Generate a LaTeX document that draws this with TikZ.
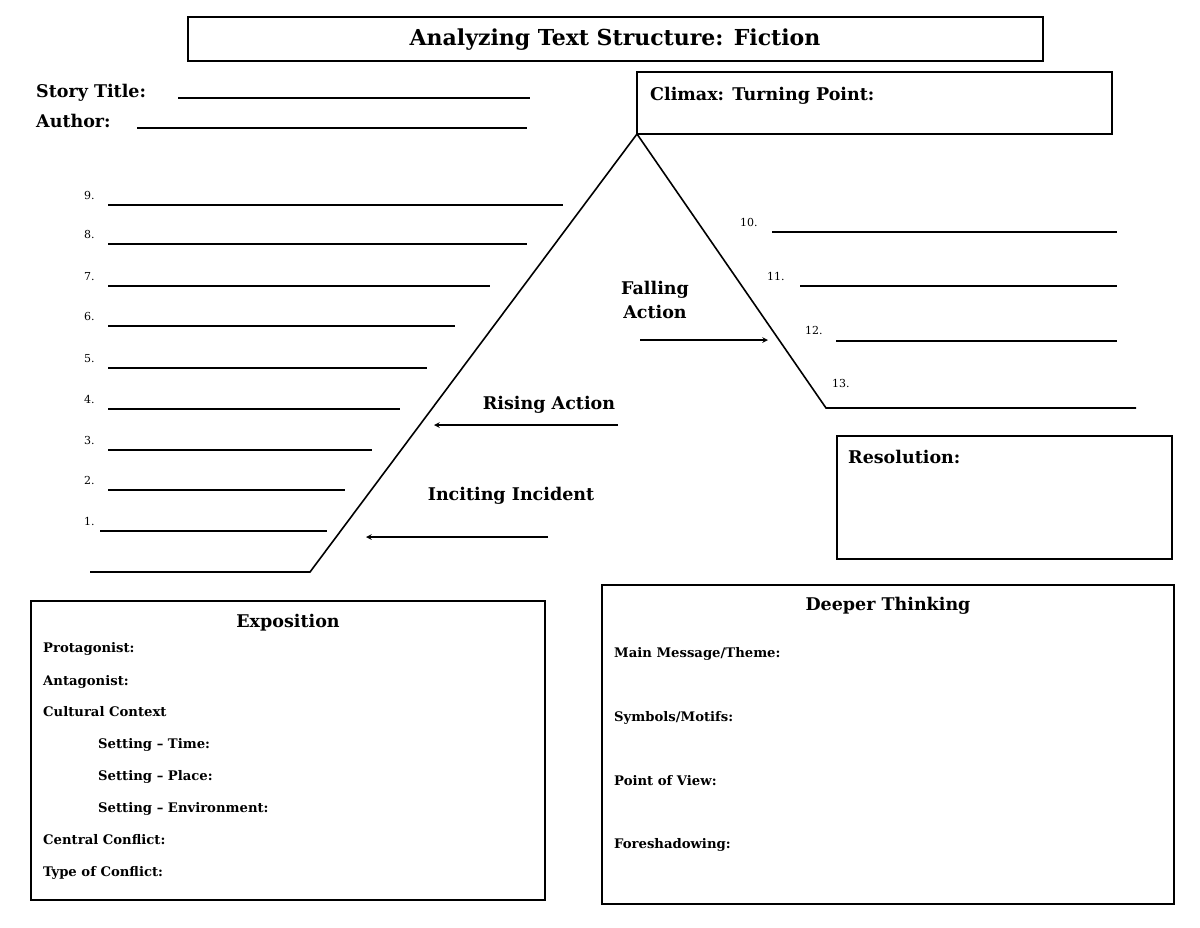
\documentclass[tikz,border=0pt]{standalone}
\usepackage{fontspec}
\setmainfont{DejaVu Serif}
\begin{document}
\begin{tikzpicture}[x=1pt,y=-1pt,
  box/.style={draw,line width=1.2pt},
  lbl/.style={anchor=base west,inner sep=0pt,font=\bfseries\fontsize{13.2}{16}\selectfont},
  hdr/.style={anchor=base west,inner sep=0pt,font=\bfseries\fontsize{17.5}{20}\selectfont},
  num/.style={anchor=base west,inner sep=0pt,font=\fontsize{11}{13}\selectfont},
  big/.style={inner sep=0pt,font=\bfseries\fontsize{17.5}{24}\selectfont,align=center},
  ln/.style={line width=1.2pt},
  arr/.style={line width=1.5pt,-stealth}]
\useasboundingbox (0,0) rectangle (1200,927);
% title
\draw[box] (188,17) rectangle (1043,61);
\node[inner sep=0pt,font=\bfseries\fontsize{22}{26}\selectfont] (title) at (615,40) {Analyzing Text Structure: Fiction};
\node[hdr] (st) at (36,97) {Story Title:};
\draw[ln] (178,98) -- (530,98);
\node[hdr] (au) at (36,127) {Author:};
\draw[ln] (137,128) -- (527,128);
% climax
\draw[box] (637,72) rectangle (1112,134);
\node[hdr] (cl) at (650,100) {Climax: Turning Point:};
% plot line
\coordinate (p0) at (90,572); \coordinate (p1) at (310,572);
\coordinate (p2) at (637,134); \coordinate (p3) at (826,408); \coordinate (p4) at (1136,408);
\draw[ln,line width=1.6pt] (p0) -- (p1) -- (p2) -- (p3) -- (p4);
% left numbered lines
\foreach \n/\y/\e in {9/205/563,8/244/527,7/286/490,6/326/455,5/368/427,4/409/400,3/450/372,2/490/345}{
  \node[num] (n\n) at (84,\y-6) {\n.};
  \draw[ln] (108,\y) -- (\e,\y);
}
\node[num] (n1) at (84,525) {1.};
\draw[ln] (100,531) -- (327,531);
% right numbered lines
\node[num] (n10) at (740,226) {10.};
\draw[ln] (772,232) -- (1117,232);
\node[num] (n11) at (767,280) {11.};
\draw[ln] (800,286) -- (1117,286);
\node[num] (n12) at (805,334) {12.};
\draw[ln] (836,341) -- (1117,341);
\node[num] (n13) at (832,387) {13.};
% labels and arrows
\node[big] (fa) at (655,300) {Falling\\Action};
\coordinate (fa1) at (640,340); \coordinate (fa2) at (768,340);
\draw[arr] (fa1) -- (fa2);
\node[big] (ra) at (549,405) {Rising Action};
\coordinate (ra1) at (618,425); \coordinate (ra2) at (434,425);
\draw[arr] (ra1) -- (ra2);
\node[big] (ii) at (511,496) {Inciting Incident};
\coordinate (ii1) at (548,537); \coordinate (ii2) at (366,537);
\draw[arr] (ii1) -- (ii2);
% resolution
\draw[box] (837,436) rectangle (1172,559);
\node[hdr] (res) at (848,463) {Resolution:};
% exposition
\draw[box] (31,601) rectangle (545,900);
\node[big] (ex) at (288,623) {Exposition};
\foreach \t/\x/\y in {Protagonist:/43/652,Antagonist:/43/685,Cultural Context/43/716,Setting -- Time:/98/748,Setting -- Place:/98/780,Setting -- Environment:/98/812,Central Conflict:/43/844,Type of Conflict:/43/876}{
  \node[lbl] at (\x,\y) {\t};
}
% deeper thinking
\draw[box] (602,585) rectangle (1174,904);
\node[big] (dt) at (888,606) {Deeper Thinking};
\foreach \t/\y in {{Main Message/Theme:}/657,{Symbols/Motifs:}/721,{Point of View:}/785,{Foreshadowing:}/848}{
  \node[lbl] at (614,\y) {\t};
}
\end{tikzpicture}
\end{document}
